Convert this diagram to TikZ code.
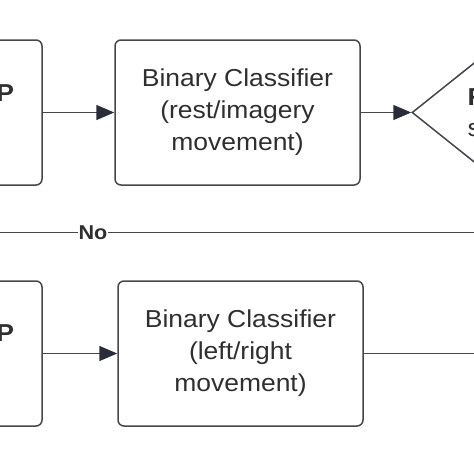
\documentclass[tikz,border=0pt]{standalone}
\usepackage{fontspec}
\setmainfont{Liberation Sans}[FakeStretch=1.08]
\usepackage{xcolor}
\usetikzlibrary{shapes.geometric,arrows.meta}

\definecolor{linegray}{HTML}{45474D}
\definecolor{tipnavy}{HTML}{2A2D39}
\definecolor{textgray}{HTML}{2F2F2F}

\tikzset{
  box/.style={draw=linegray, line width=1.5pt, rounded corners=6pt,
    minimum width=245pt, minimum height=145pt, align=center,
    text=textgray, font=\fontsize{24.5}{32}\selectfont},
  plain/.style={draw=linegray, line width=1.5pt},
  flow/.style={plain, -{Triangle[length=18pt,width=15pt,color=tipnavy]}},
}

\begin{document}
\begin{tikzpicture}[x=1pt,y=-1pt]
\useasboundingbox (0,0) rectangle (474,474);%画像と同じ大きさの枠
\clip (0,0) rectangle (474,474);

%%上の段
\node [box, minimum width=110pt] (csp1) at (-13,112.5) {};
\node [anchor=east, text=textgray, font=\fontsize{24.5}{32}\selectfont\bfseries] (csptext1) at (17.5,93) {CSP};
\node [box] (bc1) at (237.5,112.5) {Binary Classifier\\(rest/imagery\\movement)};
\node [diamond, draw=linegray, line width=1.5pt, minimum width=150pt, minimum height=120pt, inner sep=0pt] (dec1) at (487,112.5) {};
\node [anchor=west, align=left, text=textgray, font=\fontsize{24.5}{31}\selectfont] (dectext1) at (464,112.5) {\textbf{Rest}\\state?};
\draw [flow] (csp1) -- (bc1);
\draw [flow] (bc1) -- (dec1);
   %箱から箱へ"三角の矢印"

%%No の線
\coordinate (nol) at (0,232.5);
\coordinate (nor) at (474,232.5);
\draw [plain] (nol) -- node [pos=0.196, fill=white, inner sep=1pt, text=textgray, font=\fontsize{20}{24}\selectfont\bfseries] (nolabel) {No} (nor);

%%下の段
\node [box, minimum width=110pt] (csp2) at (-13,353.5) {};
\node [anchor=east, text=textgray, font=\fontsize{24.5}{32}\selectfont\bfseries] (csptext2) at (17.5,333) {CSP};
\node [box] (bc2) at (240.5,353.5) {Binary Classifier\\(left/right\\movement)};
\coordinate (outr) at (474,353.5);
\draw [flow] (csp2) -- (bc2);
\draw [plain] (bc2) -- (outr);
   %右へ出ていく"矢印なしの線"
\end{tikzpicture}
\end{document}
